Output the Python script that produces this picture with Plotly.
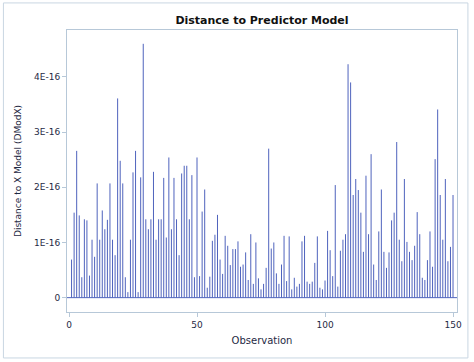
import plotly.graph_objects as go

observation = list(range(1, 151))
dmodx_e16 = [
    0.69, 1.54, 2.66, 1.49, 0.37, 1.42, 1.40, 0.40, 1.05, 0.74,
    2.07, 1.05, 1.58, 1.24, 1.41, 2.07, 1.05, 0.77, 3.61, 2.48,
    2.07, 0.37, 0.10, 1.05, 2.27, 2.66, 0.10, 2.18, 4.60, 1.42,
    1.24, 1.42, 2.28, 1.05, 1.42, 1.42, 2.17, 1.09, 2.54, 1.24,
    2.17, 1.42, 0.77, 2.25, 2.39, 2.39, 1.42, 2.22, 0.37, 2.54,
    0.39, 1.56, 1.96, 0.18, 0.38, 1.03, 1.14, 1.50, 0.69, 0.43,
    1.12, 0.94, 0.59, 0.88, 0.88, 1.02, 0.56, 0.60, 0.82, 0.32,
    1.15, 0.25, 1.00, 0.35, 0.15, 0.25, 0.54, 2.70, 0.89, 1.00,
    0.44, 0.25, 0.60, 1.12, 0.30, 1.11, 0.15, 0.36, 0.20, 0.25,
    1.02, 1.12, 0.29, 0.25, 0.29, 0.63, 1.11, 0.18, 0.15, 0.31,
    1.21, 0.86, 0.39, 2.04, 0.20, 0.85, 1.05, 1.15, 4.23, 3.90,
    1.86, 2.15, 1.95, 1.54, 0.83, 2.21, 1.15, 2.60, 0.60, 0.32,
    1.20, 1.96, 0.83, 0.54, 0.82, 1.40, 1.54, 2.82, 1.05, 0.66,
    2.15, 1.01, 0.83, 0.68, 0.94, 1.55, 1.15, 0.36, 0.32, 0.68,
    1.20, 0.56, 2.51, 3.41, 1.86, 1.05, 2.15, 0.66, 0.92, 1.86,
]
dmodx = [v * 1e-16 for v in dmodx_e16]

y_tickvals = [0, 1e-16, 2e-16, 3e-16, 4e-16]
y_ticktext = ["0", "1E-16", "2E-16", "3E-16", "4E-16"]
x_tickvals = [0, 50, 100, 150]

needle_color = "#4f63bd"
frame_color = "#b7c8d8"
text_color = "#1f2a44"

xs, ys = [], []
for o, v in zip(observation, dmodx):
    xs += [o, o, None]
    ys += [0, v, None]

fig = go.Figure()
fig.add_trace(go.Scatter(x=xs, y=ys, mode="lines",
                         line=dict(color=needle_color, width=1),
                         hoverinfo="skip", showlegend=False))

fig.add_shape(type="line", xref="paper", yref="y", x0=0, x1=1, y0=0, y1=0,
              line=dict(color=needle_color, width=1))
fig.add_shape(type="rect", xref="paper", yref="paper",
              x0=-0.163, x1=1.028, y0=-0.163, y1=1.096,
              line=dict(color="#c9d6e2", width=1))

fig.update_layout(
    width=474, height=362,
    margin=dict(l=67, r=15, t=30, b=50),
    paper_bgcolor="white", plot_bgcolor="white",
    font=dict(family="DejaVu Sans", size=9, color=text_color),
    title=dict(text="<b>Distance to Predictor Model</b>", x=0.5, xref="paper",
               xanchor="center", y=0.945, yanchor="middle",
               font=dict(size=11, color="#111111")),
    xaxis=dict(range=[-0.78, 151.55], tickvals=x_tickvals,
               showgrid=False, zeroline=False,
               showline=True, mirror=True, linecolor=frame_color, linewidth=1,
               ticks="outside", ticklen=4, tickcolor=frame_color,
               title=dict(text="Observation", standoff=8,
                          font=dict(size=10, color=text_color))),
    yaxis=dict(range=[-0.26e-16, 4.85e-16], tickvals=y_tickvals, ticktext=y_ticktext,
               showgrid=False, zeroline=False,
               showline=True, mirror=True, linecolor=frame_color, linewidth=1,
               ticks="outside", ticklen=4, tickcolor=frame_color,
               title=dict(text="Distance to X Model (DModX)", standoff=10,
                          font=dict(size=9, color=text_color))),
)

fig.write_html("out.html", config={"displayModeBar": False},
               post_script="document.body.style.margin='0';document.body.style.overflow='hidden';")
